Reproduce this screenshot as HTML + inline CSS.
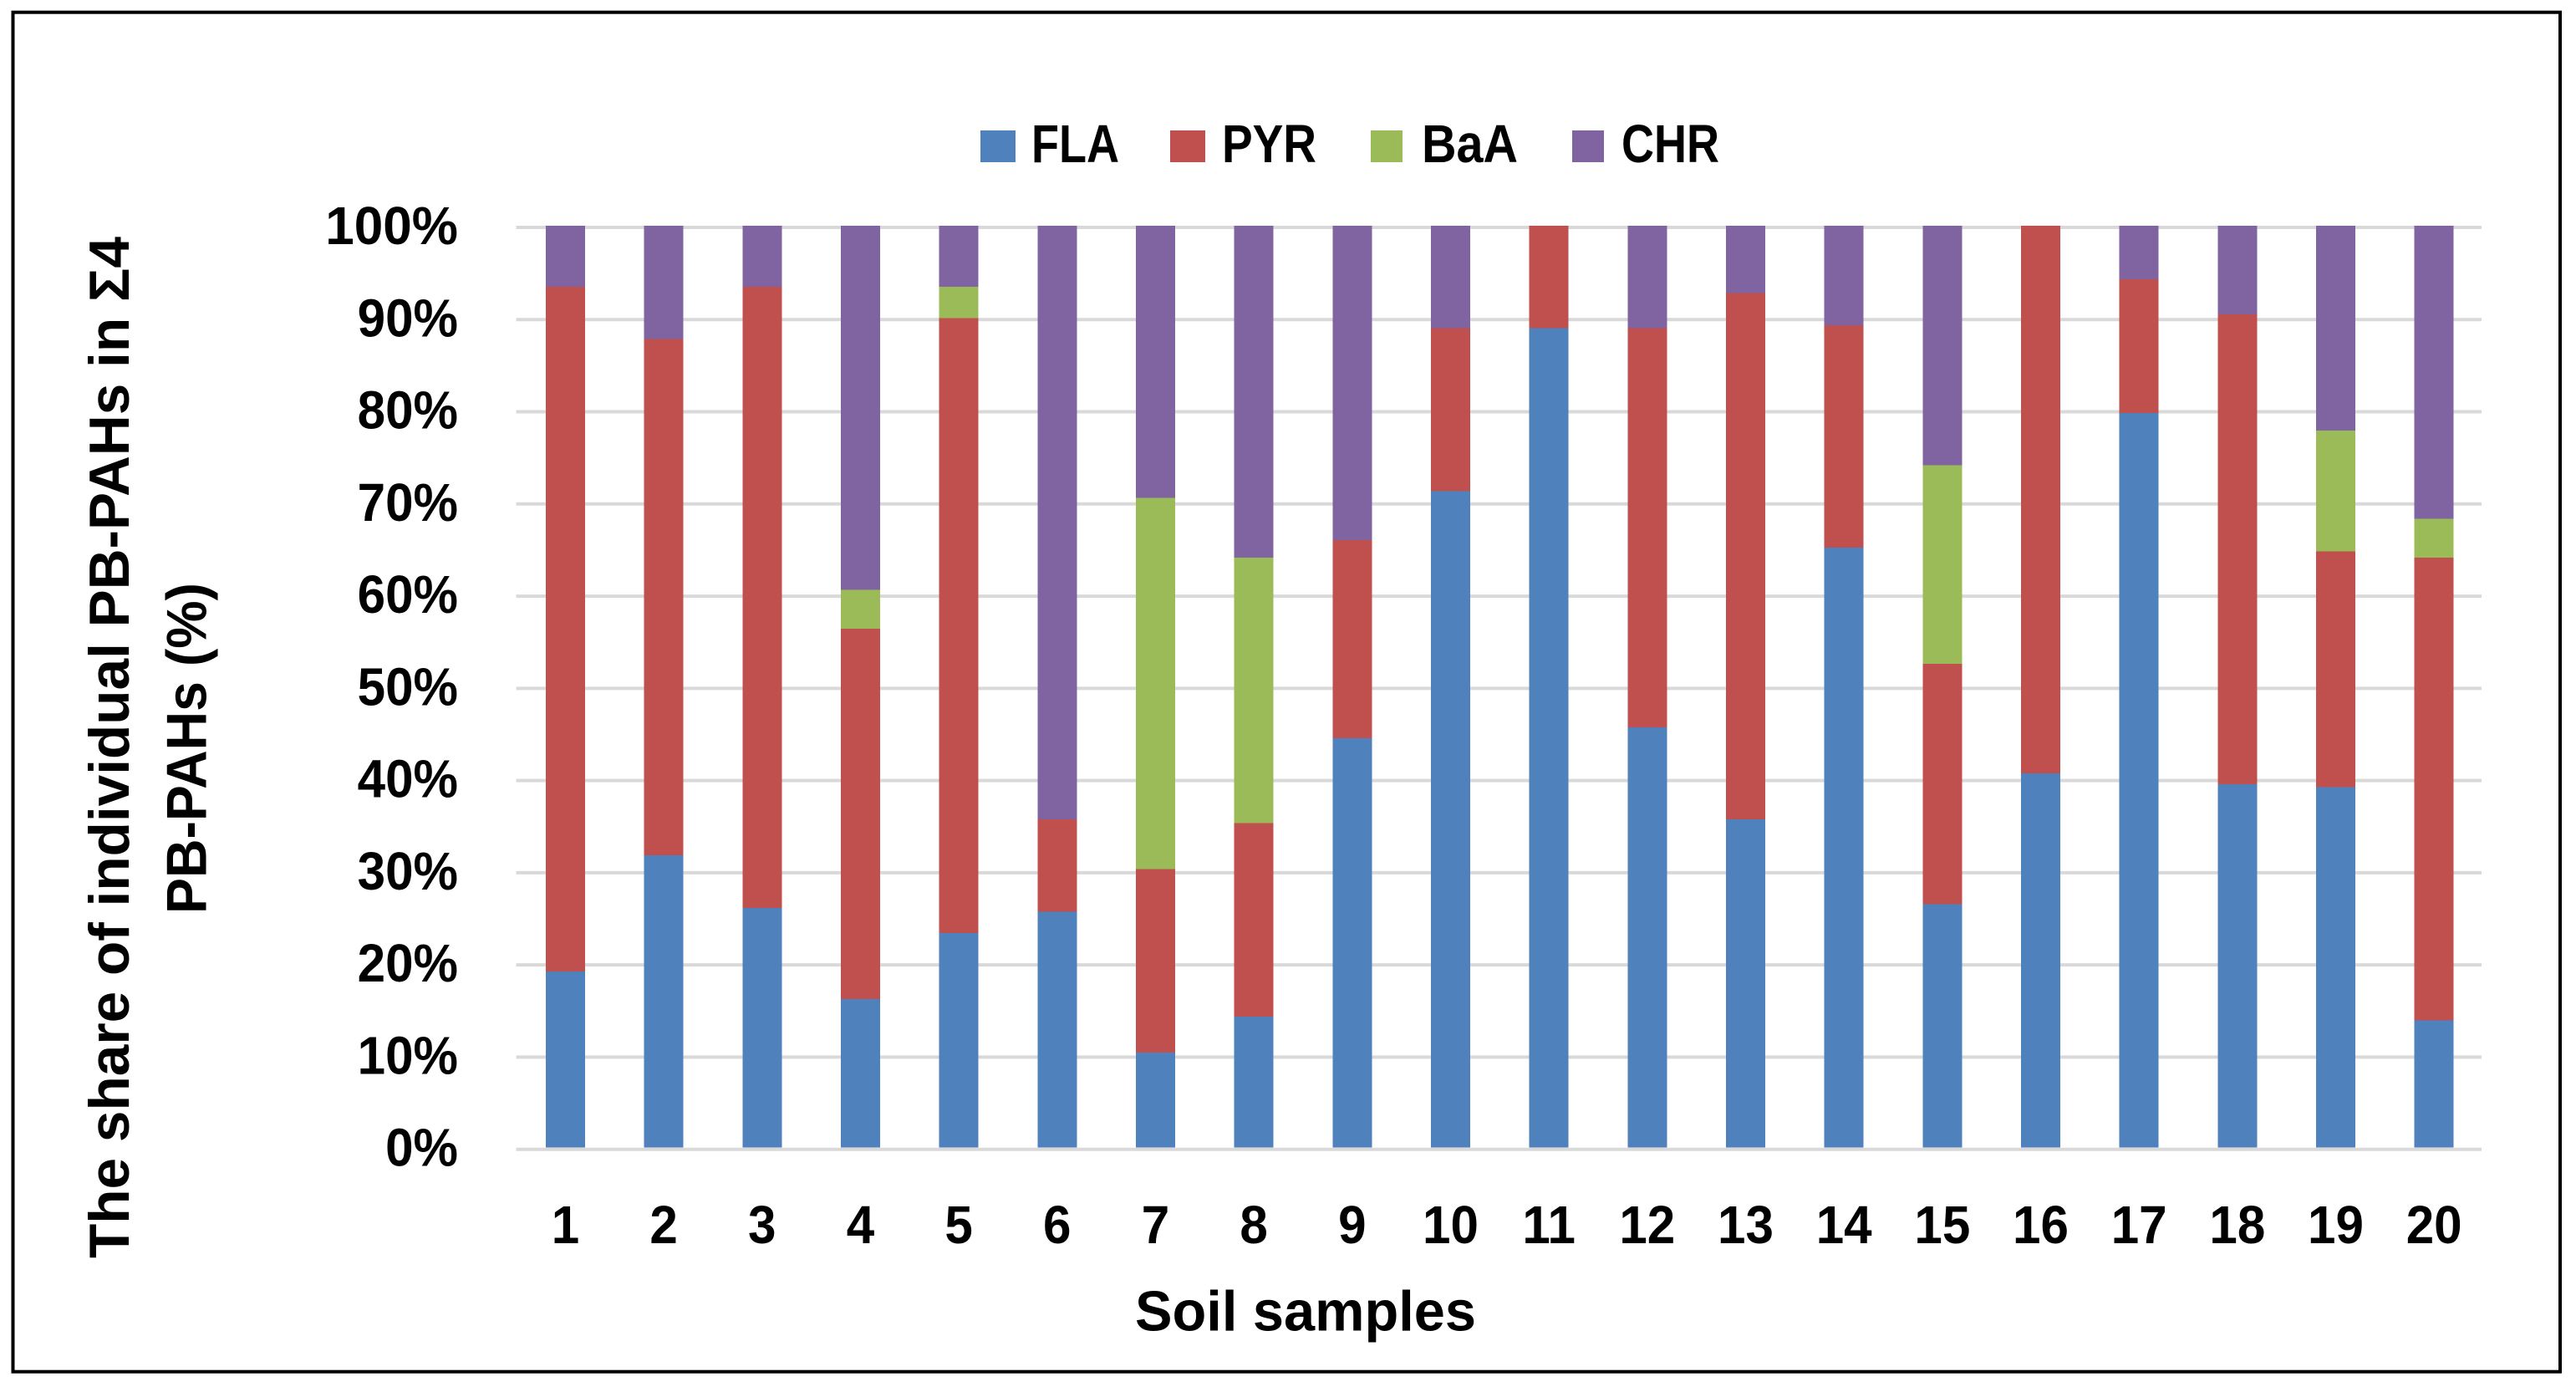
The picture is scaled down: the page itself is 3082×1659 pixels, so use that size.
<!DOCTYPE html>
<html lang="en">
<head>
<meta charset="utf-8">
<title>Share of individual PB-PAHs in soil samples</title>
<style>
  html, body { margin: 0; padding: 0; background: #ffffff; }
  #chart { display: block; width: 3082px; height: 1659px; }
  text { font-family: "Liberation Sans", "DejaVu Sans", sans-serif; font-weight: bold; fill: #000000; }
</style>
</head>
<body>
<svg id="chart" xmlns="http://www.w3.org/2000/svg" width="3082" height="1659" viewBox="0 0 3082 1659">
  <rect x="0" y="0" width="3082" height="1659" fill="#ffffff"/>
  <rect x="15.5" y="14.7" width="3047.5" height="1626" fill="none" stroke="#000000" stroke-width="4"/>
  <g id="grid"></g>
  <g id="bars"></g>
  <g id="y-ticks"></g>
  <g id="x-ticks"></g>
  <g id="legend"></g>
  <text x="1358" y="1591.5" font-size="68" textLength="408" lengthAdjust="spacingAndGlyphs">Soil samples</text>
  <text transform="translate(154 1505) rotate(-90)" font-size="68" textLength="1222" lengthAdjust="spacingAndGlyphs">The share of individual PB-PAHs in Σ4</text>
  <text transform="translate(246.5 1093) rotate(-90)" font-size="68" textLength="396" lengthAdjust="spacingAndGlyphs">PB-PAHs (%)</text>
</svg>
<script>
const categories = ["1","2","3","4","5","6","7","8","9","10","11","12","13","14","15","16","17","18","19","20"];
const seriesNames = ["FLA","PYR","BaA","CHR"];
const FLA = [19.1,31.7,26.0,16.1,23.3,25.6,10.3,14.2,44.4,71.2,88.9,45.6,35.6,65.1,26.4,40.6,79.7,39.4,39.1,13.8];
const PYR = [74.3,56.0,67.4,40.2,66.7,10.0,19.9,21.0,21.5,17.7,11.1,43.3,57.1,24.1,26.1,59.4,14.5,51.0,25.6,50.2];
const BaA = [0,0,0,4.2,3.4,0,40.3,28.8,0,0,0,0,0,0,21.5,0,0,0,13.1,4.2];
const CHR = [6.6,12.3,6.6,39.5,6.6,64.4,29.5,36.0,34.1,11.1,0,11.1,7.3,10.8,26.0,0,5.8,9.6,22.2,31.8];
const yTickValues = [0,10,20,30,40,50,60,70,80,90,100];

const NS = "http://www.w3.org/2000/svg";
const seriesValues = [FLA, PYR, BaA, CHR];
const seriesColors = ["#4f81bd", "#c0504d", "#9bbb59", "#8064a2"];

const plotLeft = 617.6;
const plotRight = 2971;
const plotZero = 1374.7;
const plotFull = 272;
const barWidth = 47;
const barShift = -2;

function xBand(i) {
  return plotLeft + (plotRight - plotLeft) * (i + 0.5) / categories.length;
}
function yValue(v) {
  return plotZero + (plotFull - plotZero) * v / 100;
}
function make(tag, attrs, parent) {
  const el = document.createElementNS(NS, tag);
  for (const k in attrs) el.setAttribute(k, attrs[k]);
  parent.appendChild(el);
  return el;
}

const gridGroup = document.getElementById("grid");
const yTickGroup = document.getElementById("y-ticks");
yTickValues.forEach(function (t) {
  const y = yValue(t);
  const line = make("line", { x1: plotLeft, x2: plotRight - 2, y1: y, y2: y, stroke: "#d9d9d9", "stroke-width": 4 }, gridGroup);
  
  
  const labelText = t + "%";
  const labelScale = labelText.length > 3 ? 0.97 : 0.94;
  const label = make("text", { transform: "translate(548 " + (y + 20) + ") scale(" + labelScale + " 1)", "text-anchor": "end", "font-size": 64 }, yTickGroup);
  
  
  label.textContent = labelText;
});

const barGroup = document.getElementById("bars");
const xTickGroup = document.getElementById("x-ticks");
categories.forEach(function (cat, i) {
  const cx = xBand(i);
  let cumulative = 0;
  seriesValues.forEach(function (values, s) {
    const top = cumulative + values[i];
    const yTop = yValue(top) + barShift;
    const yBottom = yValue(cumulative) + barShift;
    const seg = make("rect", { x: cx - barWidth / 2, y: yTop, width: barWidth, height: Math.max(0, yBottom - yTop), fill: seriesColors[s], "shape-rendering": "crispEdges" }, barGroup);
    
    
    cumulative = top;
  });
  const label = make("text", { transform: "translate(" + cx + " 1487) scale(0.94 1)", "text-anchor": "middle", "font-size": 64 }, xTickGroup);
  
  
  label.textContent = cat;
});

const legendGroup = document.getElementById("legend");
const legendSwatchX = [1173, 1400, 1640, 1881];
const legendSwatchW = [42, 42, 38, 38];
const legendTextX = [1234, 1462, 1701, 1940];
const legendTextW = [105, 113, 115, 117];
seriesNames.forEach(function (name, s) {
  const swatch = make("rect", { x: legendSwatchX[s], y: 156, width: legendSwatchW[s], height: 38, fill: seriesColors[s] }, legendGroup);
  
  
  const label = make("text", { x: legendTextX[s], y: 194, "font-size": 64, textLength: legendTextW[s], lengthAdjust: "spacingAndGlyphs" }, legendGroup);
  
  
  label.textContent = name;
});
</script>
</body>
</html>
